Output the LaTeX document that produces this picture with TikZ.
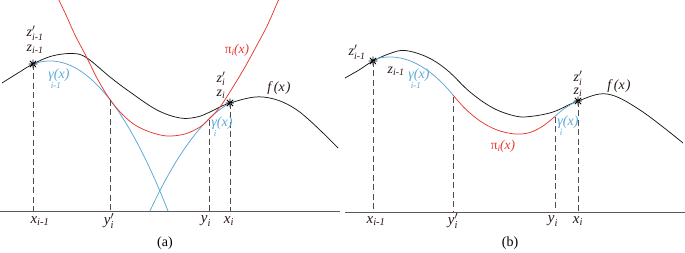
\documentclass[tikz,border=0pt]{standalone}
\usepackage{fontspec}
\setmainfont{Liberation Serif}
\usepackage{amsmath}
\definecolor{cblue}{HTML}{5AA6D8}
\definecolor{cred}{HTML}{E8382E}
\definecolor{ctext}{HTML}{2A1616}
\newcommand\gstack[2]{\textit{#1(x)}\\[-6pt]{\fontsize{9}{9}\selectfont\hspace{2.5pt}\textit{#2}}}
\begin{document}
\begin{tikzpicture}[x=1pt,y=-1pt,
  fcurve/.style={line width=0.75pt, black!90},
  bcurve/.style={line width=0.75pt, cblue},
  rcurve/.style={line width=0.75pt, cred},
  guide/.style={line width=0.75pt, black!70, dash pattern=on 6pt off 3.5pt},
  axisline/.style={line width=0.75pt, black!65},
  lbl/.style={inner sep=0pt, text=ctext, font=\fontsize{14}{16}\selectfont},
  zpair/.style={lbl, align=center},
  axlbl/.style={lbl, font=\fontsize{15}{17}\selectfont},
  blbl/.style={inner sep=0pt, text=cblue, align=left, font=\fontsize{14}{16}\selectfont},
  rlbl/.style={lbl, text=cred, font=\fontsize{13.5}{15}\selectfont},
  captxt/.style={inner sep=0pt, text=black, font=\fontsize{14}{16}\selectfont},
  starnode/.style={circle, minimum size=9pt, inner sep=0pt,
    path picture={\draw[line width=0.85pt, black]
      (path picture bounding box.north) -- (path picture bounding box.south)
      (path picture bounding box.east) -- (path picture bounding box.west)
      (path picture bounding box.north east) -- (path picture bounding box.south west)
      (path picture bounding box.north west) -- (path picture bounding box.south east);}}]
\useasboundingbox (0,0) rectangle (685,253);

% ---------------- panel (a) ----------------
\coordinate (aL) at (0,211);
\coordinate (aR) at (340,211);
\draw[axisline] (aL) -- (aR);

\draw[fcurve] plot[smooth, tension=0.6] coordinates {(2,83) (18,73) (33,64) (52,56) (73,53.5) (87,58) (110,77) (130,92) (157,110) (180,118) (197,117) (210,112) (230,103) (263,97) (297,110) (338,148)};

\draw[bcurve] plot[domain=33:168, samples=70] (\x, {61+0.01077*(\x-50)^2});
\draw[bcurve] plot[domain=150:230, samples=60] (\x, {95.3+0.00997*(\x-257.7)^2});

\begin{scope}
\clip (0,0) rectangle (685,253);
\draw[rcurve] plot[smooth, tension=0.55] coordinates {(56,-6) (66,15) (75,35) (86,56) (98,80) (110,99.5) (122,114) (135,125) (150,132) (167,136) (185,134) (200,127) (209,119) (220,107) (233,87) (245,67) (257,45) (268,24) (281,-6)};
\end{scope}

\node[starnode] (sa1) at (33,64) {};
\node[starnode] (sa2) at (230,103) {};
\coordinate (ayp) at (110,100);
\coordinate (ayi) at (209,120);
\coordinate (bxa1) at (33,211);
\coordinate (bya1) at (110,211);
\coordinate (bya2) at (209,211);
\coordinate (bxa2) at (230,211);
\draw[guide] (sa1.center) -- (bxa1);
\draw[guide] (ayp) -- (bya1);
\draw[guide] (ayi) -- (bya2);
\draw[guide] (sa2.center) -- (bxa2);

\node[zpair] (za1) at (35,40) {$\textit{z}'_{\textit{i-1}}$\\[-1pt]$\textit{z}_{\textit{i-1}}$};
\node[blbl] (ga1) at (59,79) {\gstack{γ}{i-1}};
\node[rlbl] (pa) at (237,50) {π\textsubscript{\textit{i}}\kern-0.5pt\textit{(x)}};
\node[zpair] (za2) at (221,85) {$\textit{z}'_{\textit{i}}$\\[-2pt]$\textit{z}_{\textit{i}}$};
\node[lbl] (fa) at (279,88) {\textit{f}\kern1pt\textit{(x\kern1pt)}};
\node[blbl] (ga2) at (222,127) {\gstack{γ}{i}};

\node[axlbl] (xa1) at (40,221) {$\textit{x}_{\textit{i-1}}$};
\node[axlbl] (ya1) at (109,221) {$\textit{y}'_{\textit{i}}$};
\node[axlbl] (ya2) at (206,221) {$\textit{y}_{\textit{i}}$};
\node[axlbl] (xa2) at (229,221) {$\textit{x}_{\textit{i}}$};
\node[captxt] (capa) at (165,243) {(a)};

% ---------------- panel (b) ----------------
\coordinate (bL) at (345,212);
\coordinate (bR) at (685,212);
\draw[axisline] (bL) -- (bR);

\draw[fcurve] plot[smooth, tension=0.6] coordinates {(345,78) (359,70) (373,61) (390,53.5) (405,50.5) (427,57) (447,70) (470,92) (493,108) (515,116) (530,116.5) (553,112) (578,101) (607,94) (640,110) (683,143)};

\draw[bcurve] plot[domain=373:453, samples=60] (\x, {57+0.00957*(\x-390)^2});
\draw[rcurve] plot[smooth, tension=0.55] coordinates {(453,95) (465,108.5) (480,121) (497,130) (515,134) (530,132.5) (543,126) (555,116.4)};
\draw[bcurve] plot[domain=555:578, samples=30] (\x, {98+0.0121*(\x-594)^2});

\node[starnode] (sb1) at (373,61) {};
\node[starnode] (sb2) at (578,101) {};
\coordinate (byp) at (453,97);
\coordinate (byi) at (555,117);
\coordinate (bxb1) at (373,212);
\coordinate (byb1) at (453,212);
\coordinate (byb2) at (555,212);
\coordinate (bxb2) at (578,212);
\draw[guide] (sb1.center) -- (bxb1);
\draw[guide] (byp) -- (byb1);
\draw[guide] (byi) -- (byb2);
\draw[guide] (sb2.center) -- (bxb2);

\node[lbl] (zb1p) at (357,52) {$\textit{z}'_{\textit{i-1}}$};
\node[lbl] (zb1) at (396,71) {$\textit{z}_{\textit{i-1}}$};
\node[blbl] (gb1) at (419,79) {\gstack{γ}{i-1}};
\node[zpair] (zb2) at (578,84) {$\textit{z}'_{\textit{i}}$\\[-3pt]$\textit{z}_{\textit{i}}$};
\node[lbl] (fb) at (619,86) {\textit{f}\kern1pt\textit{(x\kern1pt)}};
\node[rlbl] (pb) at (503,146) {π\textsubscript{\textit{i}}\kern-0.5pt\textit{(x)}};
\node[blbl] (gb2) at (568,126) {\gstack{γ}{i}};

\node[axlbl] (xb1) at (376,221) {$\textit{x}_{\textit{i-1}}$};
\node[axlbl] (yb1) at (453,221) {$\textit{y}'_{\textit{i}}$};
\node[axlbl] (yb2) at (553,221) {$\textit{y}_{\textit{i}}$};
\node[axlbl] (xb2) at (578,221) {$\textit{x}_{\textit{i}}$};
\node[captxt] (capb) at (510,243) {(b)};
\end{tikzpicture}
\end{document}
